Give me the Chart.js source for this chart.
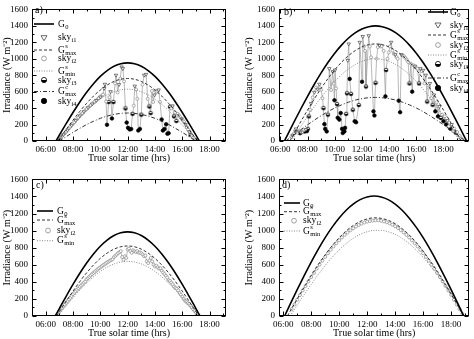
<!DOCTYPE html>
<html>
<head>
<meta charset="utf-8">
<script src="https://cdn.jsdelivr.net/npm/chart.js@4.4.0/dist/chart.umd.min.js"></script>
<style>
body { margin: 0; background: #fff; width: 474px; height: 339px; position: relative; overflow: hidden; }
canvas { position: absolute; }
</style>
</head>
<body>
<canvas id="pa" width="237" height="170" style="left:0;top:0"></canvas>
<canvas id="pb" width="237" height="170" style="left:237px;top:0"></canvas>
<canvas id="pc" width="237" height="169" style="left:0;top:170px"></canvas>
<canvas id="pd" width="237" height="169" style="left:237px;top:170px"></canvas>
<script>
const xTicks = [6, 8, 10, 12, 14, 16, 18];
const yTicks = [0, 200, 400, 600, 800, 1000, 1200, 1400, 1600];

// panel a: [hour, W m-2]
const aG0 = [[6.75,0],[7,71],[7.5,211],[8,347],[8.5,475],[9,592],[9.5,696],[10,785],[10.5,856],[11,908],[11.5,939],[12,950],[12.5,939],[13,908],[13.5,856],[14,785],[14.5,696],[15,592],[15.5,475],[16,347],[16.5,211],[17,71],[17.25,0]];
const aGsMax = [[6.9,0],[7,23],[7.5,140],[8,253],[8.5,360],[9,458],[9.5,546],[10,620],[10.5,680],[11,724],[11.5,751],[12,760],[12.5,751],[13,724],[13.5,680],[14,620],[14.5,546],[15,458],[15.5,360],[16,253],[16.5,140],[17,23],[17.1,0]];
const aGsMin = [[7,0],[7.5,99],[8,195],[8.5,286],[9,370],[9.5,445],[10,510],[10.5,561],[11,599],[11.5,622],[12,630],[12.5,622],[13,599],[13.5,561],[14,510],[14.5,445],[15,370],[15.5,286],[16,195],[16.5,99],[17,0]];
const aGcMax = [[7,0],[7.5,53],[8,105],[8.5,154],[9,200],[9.5,240],[10,275],[10.5,303],[11,323],[11.5,336],[12,340],[12.5,336],[13,323],[13.5,303],[14,275],[14.5,240],[15,200],[15.5,154],[16,105],[16.5,53],[17,0]];
// measured: [hour, W m-2, sky type]
const aObs = [[6.9,5,2],[7.0,25,1],[7.1,42,2],[7.2,60,2],[7.3,77,1],[7.4,94,2],[7.5,112,2],[7.6,132,1],[7.7,152,2],[7.8,172,2],[7.9,191,1],[8.0,210,2],[8.1,229,2],[8.2,248,1],[8.3,267,2],[8.4,286,2],[8.5,305,1],[8.6,322,2],[8.7,339,2],[8.8,356,1],[8.9,373,2],[9.0,390,2],[9.1,405,1],[9.2,420,2],[9.3,435,2],[9.4,450,1],[9.5,465,2],[9.6,479,2],[9.7,493,1],[9.8,507,2],[9.9,521,2],[10.0,535,1],[10.1,550,2],[10.2,565,2],[10.28,640,1],
  [10.33,690,1],[10.42,480,2],[10.49,197,4],[10.61,474,3],[10.66,532,2],[10.75,600,1],[10.85,274,4],[10.96,474,3],[11.08,700,2],[11.15,800,1],[11.27,590,2],[11.37,686,1],[11.46,760,2],[11.56,900,1],[11.65,880,1],[11.74,725,2],[11.84,397,3],[11.93,224,4],[12.03,160,4],[12.15,140,4],[12.26,146,4],[12.36,330,3],[12.45,430,2],[12.52,667,1],[12.62,628,2],[12.71,513,2],[12.78,127,4],[12.9,146,4],[13.0,320,3],[13.09,686,2],[13.21,800,1],[13.35,810,1],[13.47,513,2],[13.59,420,3],[13.68,339,3],[13.78,609,2],[13.87,474,2],[13.97,560,1],[14.06,609,2],[14.16,598,2],[14.27,621,1],[14.37,474,2],[14.49,262,4],[14.58,127,4],[14.7,146,4],[14.82,204,4],[14.91,89,4],[15.0,95,4],[15.1,416,3],[15.2,397,2],[15.29,427,1],[15.39,300,3],[15.48,345,2],[15.57,243,3],[15.67,330,2],[15.76,310,2],[15.86,290,2],[15.95,270,1],[16.05,250,2],[16.14,230,2],[16.24,200,1],[16.33,170,2],[16.43,140,2],[16.52,110,1],[16.61,75,3],[16.71,60,2],[16.8,40,2],[16.9,25,2],[17.0,10,2]];

// panel b
const bG0 = [[6.3,0],[6.5,66],[7,229],[7.5,389],[8,543],[8.5,690],[9,828],[9.5,955],[10,1068],[10.5,1166],[11,1249],[11.5,1315],[12,1362],[12.5,1390],[13,1400],[13.5,1390],[14,1362],[14.5,1315],[15,1249],[15.5,1166],[16,1068],[16.5,955],[17,828],[17.5,690],[18,543],[18.5,389],[19,229],[19.5,66],[19.7,0]];
const bGsMax = [[6.7,0],[7,88],[7.5,234],[8,376],[8.5,512],[9,640],[9.5,758],[10,865],[10.5,958],[11,1036],[11.5,1098],[12,1144],[12.5,1171],[13,1180],[13.5,1171],[14,1144],[14.5,1098],[15,1036],[15.5,958],[16,865],[16.5,758],[17,640],[17.5,512],[18,376],[18.5,234],[19,88],[19.3,0]];
const bGsMin = [[6.8,0],[7,51],[7.5,176],[8,299],[8.5,417],[9,529],[9.5,632],[10,725],[10.5,806],[11,874],[11.5,929],[12,968],[12.5,992],[13,1000],[13.5,992],[14,968],[14.5,929],[15,874],[15.5,806],[16,725],[16.5,632],[17,529],[17.5,417],[18,299],[18.5,176],[19,51],[19.2,0]];
const bGcMax = [[6.4,0],[7,75],[7.5,137],[8,197],[8.5,254],[9,307],[9.5,357],[10,401],[10.5,439],[11,471],[11.5,497],[12,515],[12.5,526],[13,530],[13.5,526],[14,515],[14.5,497],[15,471],[15.5,439],[16,401],[16.5,357],[17,307],[17.5,254],[18,197],[18.5,137],[19,75],[19.6,0]];
const bObs = [[6.8,50,2],[6.9,70,1],[7.0,90,2],[7.1,120,1],[7.15,147,1],[7.25,100,2],[7.35,120,1],[7.45,95,4],[7.55,110,2],[7.64,108,1],[7.72,130,2],[7.8,115,4],[7.88,140,1],[7.95,120,4],[8.02,147,3],[8.09,300,3],[8.18,380,2],[8.26,457,1],[8.38,530,2],[8.5,592,1],[8.63,650,2],[8.75,630,1],[8.87,690,1],[9.0,623,2],[9.1,520,2],[9.17,400,3],[9.24,205,4],[9.3,147,4],[9.41,116,4],[9.5,320,3],[9.6,880,1],[9.73,620,2],[9.85,843,1],[9.92,700,2],[9.98,495,4],[10.02,863,1],[10.1,640,2],[10.17,449,3],[10.22,282,4],[10.34,260,4],[10.44,340,4],[10.54,147,4],[10.59,97,4],[10.71,116,4],[10.76,159,4],[10.84,330,3],[10.9,580,3],[10.96,980,1],[11.03,1180,1],[11.1,755,4],[11.2,573,3],[11.33,380,3],[11.47,240,4],[11.57,228,4],[11.77,437,3],[11.84,1200,1],[12.01,720,4],[12.06,1270,1],[12.15,1150,2],[12.23,1095,2],[12.3,662,3],[12.5,1280,1],[12.58,1150,2],[12.67,1018,2],[12.85,360,4],[12.92,310,4],[13.0,708,3],[13.08,1000,2],[13.17,1142,2],[13.29,1165,1],[13.38,1150,2],[13.46,1153,2],[13.6,1095,2],[13.73,542,4],[13.78,863,3],[13.88,1000,2],[13.98,1076,2],[14.06,1150,2],[14.15,1200,1],
  [14.25,1100,2],[14.35,1060,2],[14.45,1050,1],[14.55,1020,2],[14.63,1000,2],[14.71,490,4],[14.81,350,4],[14.9,1050,1],[15.0,1040,2],[15.1,1030,2],[15.2,1010,2],[15.3,990,2],[15.4,960,2],[15.5,700,3],[15.6,940,2],[15.7,600,4],[15.8,920,2],[15.9,910,1],[16.0,890,2],[16.1,880,2],[16.2,700,3],[16.3,880,1],[16.4,850,2],[16.5,860,1],[16.6,700,2],[16.7,800,1],[16.8,480,3],[16.9,650,2],[17.0,700,1],[17.1,520,2],[17.2,440,3],[17.3,560,1],[17.4,360,4],[17.5,470,2],[17.6,300,4],[17.7,420,1],[17.8,280,3],[17.9,320,2],[18.0,240,4],[18.1,300,2],[18.2,200,4],[18.3,250,1],[18.4,180,2],[18.5,150,4],[18.6,200,1],[18.7,120,2],[18.8,150,2],[18.9,100,4],[19.0,110,2],[19.1,70,2],[19.2,60,2],[19.3,30,2],[19.4,15,2]];

// panel c
const cG0 = [[6.7,0],[7,87],[7.5,231],[8,370],[8.5,501],[9,621],[9.5,727],[10,817],[10.5,889],[11,942],[11.5,974],[12,985],[12.5,974],[13,942],[13.5,889],[14,817],[14.5,727],[15,621],[15.5,501],[16,370],[16.5,231],[17,87],[17.3,0]];
const cGsMax = [[6.8,0],[7,50],[7.5,172],[8,291],[8.5,403],[9,506],[9.5,597],[10,675],[10.5,737],[11,783],[11.5,811],[12,820],[12.5,811],[13,783],[13.5,737],[14,675],[14.5,597],[15,506],[15.5,403],[16,291],[16.5,172],[17,50],[17.2,0]];
const cGsMin = [[6.9,0],[7,20],[7.5,118],[8,213],[8.5,303],[9,386],[9.5,459],[10,522],[10.5,573],[11,610],[11.5,632],[12,640],[12.5,632],[13,610],[13.5,573],[14,522],[14.5,459],[15,386],[15.5,303],[16,213],[16.5,118],[17,20],[17.1,0]];
const cObs = [[6.8,10],[6.9,30],[7.0,55],[7.1,75],[7.2,95],[7.3,115],[7.4,135],[7.5,155],[7.6,175],[7.7,195],[7.8,215],[7.9,235],[8.0,255],[8.1,272],[8.2,290],[8.3,308],[8.4,325],[8.5,342],[8.6,358],[8.7,375],[8.8,390],[8.9,405],[9.0,430],[9.1,445],[9.2,460],[9.3,475],[9.4,490],[9.5,505],[9.6,518],[9.7,532],[9.8,545],[9.9,558],[10.0,570],[10.1,582],[10.2,594],[10.3,605],[10.4,616],[10.5,627],[10.6,637],[10.7,647],[10.8,656],[10.9,665],[11.0,690],[11.1,705],[11.2,720],[11.3,735],[11.4,748],[11.5,760],[11.6,690],[11.7,660],[11.8,700],[11.9,680],[12.0,780],[12.1,790],[12.2,760],[12.3,740],[12.4,770],[12.5,760],[12.6,750],[12.7,760],[12.8,740],[12.9,745],[13.0,735],[13.1,720],[13.2,700],[13.3,710],[13.4,640],[13.5,620],[13.6,650],[13.7,680],[13.8,640],[13.9,600],[14.0,580],[14.1,590],[14.2,570],[14.3,555],[14.4,560],[14.5,530],[14.6,510],[14.7,490],[14.8,470],[14.9,450],[15.0,420],[15.1,410],[15.2,390],[15.3,370],[15.4,345],[15.5,330],[15.6,320],[15.7,300],[15.8,270],[15.9,250],[16.0,225],[16.1,200],[16.2,180],[16.3,165],[16.4,150],[16.5,140],[16.6,120],[16.7,100],[16.8,80],[16.9,60],[17.0,40],[17.1,20],[17.2,5]];

// panel d
const dG0 = [[6.1,0],[6.5,138],[7,308],[7.5,473],[8,632],[8.5,781],[9,918],[9.5,1041],[10,1149],[10.5,1239],[11,1311],[11.5,1363],[12,1394],[12.5,1405],[13,1394],[13.5,1363],[14,1311],[14.5,1239],[15,1149],[15.5,1041],[16,918],[16.5,781],[17,632],[17.5,473],[18,308],[18.5,138],[18.9,0]];
const dGsMax = [[6.3,0],[6.5,57],[7,200],[7.5,339],[8,473],[8.5,600],[9,717],[9.5,823],[10,917],[10.5,996],[11,1060],[11.5,1107],[12,1137],[12.5,1150],[13,1144],[13.5,1121],[14,1081],[14.5,1023],[15,950],[15.5,863],[16,760],[16.5,646],[17,524],[17.5,393],[18,259],[18.5,115],[18.9,0]];
const dGsMin = [[6.5,0],[7,126],[7.5,250],[8,370],[8.5,484],[9,591],[9.5,688],[10,774],[10.5,849],[11,909],[11.5,956],[12,987],[12.5,1003],[13,1003],[13.5,987],[14,956],[14.5,909],[15,849],[15.5,774],[16,688],[16.5,591],[17,484],[17.5,370],[18,250],[18.5,126],[18.9,0]];
const dObs = [[6.6,80],[6.8,135],[7.0,190],[7.2,245],[7.4,300],[7.6,352],[7.8,405],[8.0,456],[8.2,506],[8.4,555],[8.6,602],[8.8,648],[9.0,692],[9.2,735],[9.4,776],[9.6,815],[9.8,852],[10.0,887],[10.2,920],[10.4,950],[10.6,978],[10.8,1004],[11.0,1027],[11.2,1048],[11.4,1066],[11.6,1082],[11.8,1095],[12.0,1105],[12.2,1112],[12.4,1117],[12.6,1120],[12.8,1120],[13.0,1115],[13.2,1108],[13.4,1098],[13.6,1085],[13.8,1070],[14.0,1052],[14.2,1030],[14.4,1006],[14.6,980],[14.8,951],[15.0,920],[15.2,887],[15.4,852],[15.6,815],[15.8,776],[16.0,735],[16.2,692],[16.4,648],[16.6,602],[16.8,555],[17.0,506],[17.2,456],[17.4,405],[17.6,352],[17.8,300],[18.0,248],[18.2,190],[18.4,135],[18.6,80],[18.8,25]];

const curveStyle = {
  G0:    { borderColor: '#000', borderWidth: 1.6, borderDash: [] },
  GsMax: { borderColor: '#333', borderWidth: 1, borderDash: [3, 2] },
  GsMin: { borderColor: '#888', borderWidth: 1, borderDash: [1, 1.5] },
  GcMax: { borderColor: '#333', borderWidth: 1, borderDash: [4, 2, 1, 2] }
};
const labels = {
  G0: ['G', null, '0'], GsMax: ['G', 's', 'max'], GsMin: ['G', 's', 'min'], GcMax: ['G', 'c', 'max'],
  1: ['sky', null, 'i1'], 2: ['sky', null, 'i2'], 3: ['sky', null, 'i3'], 4: ['sky', null, 'i4']
};

function halfDot(r) {
  const c = document.createElement('canvas');
  const s = Math.ceil(r * 2 + 2);
  c.width = c.height = s;
  const g = c.getContext('2d');
  g.beginPath(); g.arc(s / 2, s / 2, r, 0, Math.PI * 2);
  g.fillStyle = '#fff'; g.fill();
  g.beginPath(); g.arc(s / 2, s / 2, r, 0, Math.PI);
  g.fillStyle = '#000'; g.fill();
  g.beginPath(); g.arc(s / 2, s / 2, r, 0, Math.PI * 2);
  g.lineWidth = 0.8; g.strokeStyle = '#000'; g.stroke();
  return c;
}
const halfImg = halfDot(1.8);
const halfImgBig = halfDot(2.6);

const skyStyle = {
  1: { pointStyle: 'triangle', rotation: 180, pointRadius: 2, borderColor: '#444', backgroundColor: '#fff', borderWidth: 0.7 },
  2: { pointStyle: 'circle', pointRadius: 1.5, borderColor: '#8a8a8a', backgroundColor: '#fff', borderWidth: 0.7 },
  3: { pointStyle: halfImg, pointRadius: 1.8, borderColor: '#000', backgroundColor: '#000', borderWidth: 0.7 },
  4: { pointStyle: 'circle', pointRadius: 1.8, borderColor: '#000', backgroundColor: '#000', borderWidth: 0.7 }
};

const panels = [
  { id: 'pa', xMin: 5, xMax: 19.2, pad: { left: 1, top: 3, right: 11, bottom: 6 }, yW: 31, letter: ['a)', 35, 10],
    curves: [['G0', aG0], ['GsMax', aGsMax], ['GsMin', aGsMin], ['GcMax', aGcMax]], obs: aObs,
    legend: { x0: 34, x1: 54, px: 44, tx: 58,
      rows: [['G0', 24], [1, 37.7], ['GsMax', 50], [2, 58.5], ['GsMin', 71], [3, 80], ['GcMax', 91.5], [4, 101]] } },
  { id: 'pb', xMin: 5.9, xMax: 19.9, pad: { left: 6, top: 3, right: 4, bottom: 6 }, yW: 36, letter: ['b)', 47, 12.5],
    curves: [['G0', bG0], ['GsMax', bGsMax], ['GsMin', bGsMin], ['GcMax', bGcMax]], obs: bObs,
    legend: { x0: 191, x1: 211, px: 201, tx: 213,
      rows: [['G0', 12], [1, 25], ['GsMax', 35], [2, 45], ['GsMin', 55], [3, 64], ['GcMax', 78], [4, 88]] } },
  { id: 'pc', xMin: 5, xMax: 19.2, pad: { left: 1, top: 7, right: 11, bottom: 0 }, yW: 31, letter: ['c)', 36, 15],
    curves: [['G0', cG0], ['GsMax', cGsMax], ['GsMin', cGsMin]], obs: cObs,
    legend: { x0: 37, x1: 53, px: 48, tx: 57,
      rows: [['G0', 41], ['GsMax', 50], [2, 60.5], ['GsMin', 70.7]] } },
  { id: 'pd', xMin: 5.7, xMax: 19.3, pad: { left: 6, top: 7, right: 4, bottom: 0 }, yW: 36, letter: ['d)', 45, 15],
    curves: [['G0', dG0], ['GsMax', dGsMax], ['GsMin', dGsMin]], obs: dObs,
    legend: { x0: 47, x1: 63, px: 57, tx: 66,
      rows: [['G0', 33], ['GsMax', 41.7], [2, 50.7], ['GsMin', 61]] } }
];

const SERIF = "'Liberation Serif', 'Times New Roman', serif";

function drawLabel(ctx, x, y, parts) {
  const [base, sup, sub] = parts;
  ctx.fillStyle = '#000';
  ctx.textAlign = 'left';
  ctx.textBaseline = 'middle';
  ctx.font = '9.5px ' + SERIF;
  ctx.fillText(base, x, y);
  const w = ctx.measureText(base).width + 0.3;
  ctx.font = '6.5px ' + SERIF;
  if (sup) ctx.fillText(sup, x + w, y - 4);
  if (sub) ctx.fillText(sub, x + w, y + 3);
}

function drawMarker(ctx, k, x, y) {
  if (k === 3) { ctx.drawImage(halfImgBig, x - halfImgBig.width / 2, y - halfImgBig.height / 2); return; }
  const s = skyStyle[k];
  ctx.beginPath();
  if (k === 1) {
    ctx.moveTo(x - 3, y - 2); ctx.lineTo(x + 3, y - 2); ctx.lineTo(x, y + 3); ctx.closePath();
  } else {
    ctx.arc(x, y, k === 4 ? 2.7 : 2.4, 0, Math.PI * 2);
  }
  ctx.fillStyle = s.backgroundColor; ctx.fill();
  ctx.setLineDash([]); ctx.lineWidth = 0.8; ctx.strokeStyle = s.borderColor; ctx.stroke();
}

const decor = {
  id: 'decor',
  afterDatasetsDraw(chart, args, o) {
    const { ctx, chartArea: a } = chart;
    const xs = chart.scales.x, ys = chart.scales.y;
    ctx.save();
    ctx.strokeStyle = '#000';
    ctx.lineWidth = 1;
    ctx.setLineDash([]);
    const L = Math.round(a.left) + 0.5, R = Math.round(a.right) - 0.5;
    const T = Math.round(a.top) + 0.5, B = Math.round(a.bottom) - 0.5;
    ctx.strokeRect(L, T, R - L, B - T);
    ctx.beginPath();
    for (let h = Math.ceil(xs.min); h <= xs.max; h++) {
      const px = Math.round(xs.getPixelForValue(h)) + 0.5;
      const len = h % 2 === 0 ? 4 : 2;
      ctx.moveTo(px, B); ctx.lineTo(px, B - len);
      ctx.moveTo(px, T); ctx.lineTo(px, T + len);
    }
    for (let v = 0; v <= 1600; v += 100) {
      const py = Math.round(ys.getPixelForValue(v)) + 0.5;
      const len = v % 200 === 0 ? 4 : 2;
      ctx.moveTo(L, py); ctx.lineTo(L + len, py);
      ctx.moveTo(R, py); ctx.lineTo(R - len, py);
    }
    ctx.stroke();

    const p = o.panel;
    ctx.fillStyle = '#000';
    ctx.font = '10px ' + SERIF;
    ctx.textAlign = 'left';
    ctx.textBaseline = 'middle';
    ctx.fillText(p.letter[0], p.letter[1], p.letter[2]);

    const lg = p.legend;
    lg.rows.forEach(([key, y]) => {
      if (typeof key === 'string') {
        const st = curveStyle[key];
        ctx.beginPath();
        ctx.setLineDash(st.borderDash);
        ctx.lineWidth = st.borderWidth;
        ctx.strokeStyle = st.borderColor;
        ctx.moveTo(lg.x0, y); ctx.lineTo(lg.x1, y);
        ctx.stroke();
        ctx.setLineDash([]);
      } else {
        drawMarker(ctx, key, lg.px, y);
      }
      drawLabel(ctx, lg.tx, y, labels[key]);
    });
    ctx.restore();
  }
};

const toXY = arr => arr.map(([x, y]) => ({ x, y }));

panels.forEach(p => {
  const datasets = [];
  datasets.push({
    type: 'line', data: toXY(p.obs), borderColor: '#9a9a9a', borderWidth: 0.7,
    pointRadius: 0, tension: 0, fill: false, order: 5
  });
  [1, 2, 3, 4].forEach(k => {
    const pts = p.obs.filter(o => (o[2] || 2) === k);
    if (!pts.length) return;
    const s = skyStyle[k];
    datasets.push({
      type: 'scatter', data: toXY(pts), showLine: false,
      pointStyle: s.pointStyle, rotation: s.rotation || 0, pointRadius: s.pointRadius,
      pointBorderColor: s.borderColor, pointBackgroundColor: s.backgroundColor,
      pointBorderWidth: s.borderWidth, borderColor: s.borderColor, backgroundColor: s.backgroundColor,
      order: 4
    });
  });
  p.curves.forEach(([name, arr]) => {
    const st = curveStyle[name];
    datasets.push({
      type: 'line', data: toXY(arr), borderColor: st.borderColor, borderWidth: st.borderWidth,
      borderDash: st.borderDash, pointRadius: 0, fill: false, cubicInterpolationMode: 'monotone',
      order: name === 'G0' ? 0 : 1
    });
  });

  new Chart(document.getElementById(p.id), {
    type: 'scatter',
    data: { datasets },
    options: {
      responsive: false,
      animation: false,
      devicePixelRatio: 1,
      events: [],
      layout: { padding: p.pad },
      plugins: { legend: { display: false }, tooltip: { enabled: false }, decor: { panel: p } },
      scales: {
        x: {
          type: 'linear', min: p.xMin, max: p.xMax,
          grid: { display: false, drawTicks: false }, border: { display: false },
          afterBuildTicks: s => { s.ticks = xTicks.map(v => ({ value: v })); },
          afterFit: s => { s.height = 23; },
          ticks: {
            callback: v => String(v).padStart(2, '0') + ':00',
            font: { family: SERIF, size: 9 }, color: '#000', padding: 3, maxRotation: 0, autoSkip: false
          },
          title: { display: true, text: 'True solar time (hrs)', font: { family: SERIF, size: 10 }, color: '#000', padding: 0 }
        },
        y: {
          type: 'linear', min: 0, max: 1600,
          grid: { display: false, drawTicks: false }, border: { display: false },
          afterBuildTicks: s => { s.ticks = yTicks.map(v => ({ value: v })); },
          afterFit: s => { s.width = p.yW; },
          ticks: { callback: v => String(v), font: { family: SERIF, size: 9 }, color: '#000', padding: 4 },
          title: { display: true, text: 'Irradiance (W m\u207B\u00B2)', font: { family: SERIF, size: 10 }, color: '#000', padding: 0 }
        }
      }
    },
    plugins: [decor]
  });
});
</script>
</body>
</html>
